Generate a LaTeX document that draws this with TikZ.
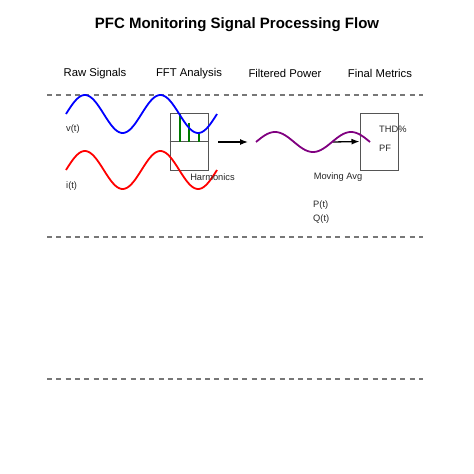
\documentclass[tikz,border=0pt]{standalone}
\usepackage{fontspec}
\setmainfont{Liberation Sans}
\usetikzlibrary{arrows.meta}
\definecolor{sepgray}{HTML}{777777}
\definecolor{boxgray}{HTML}{555555}
\definecolor{harmgreen}{HTML}{007A00}
\definecolor{purp}{HTML}{800080}
\begin{document}
\begin{tikzpicture}[x=1pt,y=-1pt,
  sep/.style={sepgray,line width=1.2pt,dash pattern=on 5pt off 4.3pt},
  hdr/.style={font=\fontsize{11.3}{13}\selectfont,inner sep=0pt},
  lbl/.style={font=\fontsize{9.3}{11}\selectfont,inner sep=0pt,text=black!85},
  boxst/.style={draw=boxgray,line width=1pt},
  flow/.style={-{Latex[length=8pt,width=6pt]},line width=1.3pt,black},
  harm/.style={harmgreen,line width=2pt},
  wave/.style={line width=1.8pt,smooth}]
\useasboundingbox (0,0) rectangle (474,474);
\node[font=\bfseries\fontsize{15}{18}\selectfont,inner sep=0pt] (title) at (237,24.5) {PFC Monitoring Signal Processing Flow};
\node[hdr] (h1) at (95,73.5) {Raw Signals};
\node[hdr] (h2) at (189,73.5) {FFT Analysis};
\node[hdr] (h3) at (285,73.5) {Filtered Power};
\node[hdr] (h4) at (380,73.5) {Final Metrics};
% separators
\coordinate (s1a) at (47,95); \coordinate (s1b) at (423,95);
\coordinate (s2a) at (47,237); \coordinate (s2b) at (423,237);
\coordinate (s3a) at (47,379); \coordinate (s3b) at (423,379);
\draw[sep] (s1a) -- (s1b);
\draw[sep] (s2a) -- (s2b);
\draw[sep] (s3a) -- (s3b);
% FFT box
\node[boxst,minimum width=38pt,minimum height=57pt,inner sep=0pt] (fft) at (189,141.5) {};
\draw[boxst] (fft.west) -- (fft.east);
% harmonics
\coordinate (g1b) at (180,142); \coordinate (g1t) at (180,113.5);
\coordinate (g2b) at (189.3,142); \coordinate (g2t) at (189.3,123);
\coordinate (g3b) at (199,142); \coordinate (g3t) at (199,133);
\draw[harm] (g1b) -- (g1t);
\draw[harm] (g2b) -- (g2t);
\draw[harm] (g3b) -- (g3t);
% raw signals
\draw[blue,wave,domain=0:151,samples=120] plot ({66+\x},{114-19*sin(\x/75.5*360)});
\draw[red,wave,domain=0:151,samples=120] plot ({66+\x},{170-19*sin(\x/75.5*360)});
\node[lbl,anchor=west] (vt) at (66,129) {v(t)};
\node[lbl,anchor=west] (it) at (66,186) {i(t)};
\node[lbl] (harmlbl) at (212.5,177) {Harmonics};
% arrow to filtered
\coordinate (a1s) at (218,142); \coordinate (a1e) at (248,142);
\draw[flow] (a1s) -- (a1e);
% metrics box
\node[boxst,minimum width=38pt,minimum height=57pt,inner sep=0pt] (fin) at (379,141.5) {};
\coordinate (a2s) at (333,142);
\draw[flow] (a2s) -- (fin.west);
% filtered wave
\draw[purp,wave,domain=0:114,samples=100] plot ({256+\x},{142-10*sin(\x/76*360)});
\node[lbl,anchor=west] (thd) at (379,129) {THD\%};
\node[lbl,anchor=west] (pf) at (379,148) {PF};
\node[lbl] (mavg) at (338,177) {Moving Avg};
\node[lbl,anchor=west] (pt) at (313,205) {P(t)};
\node[lbl,anchor=west] (qt) at (313,219) {Q(t)};
\end{tikzpicture}
\end{document}
